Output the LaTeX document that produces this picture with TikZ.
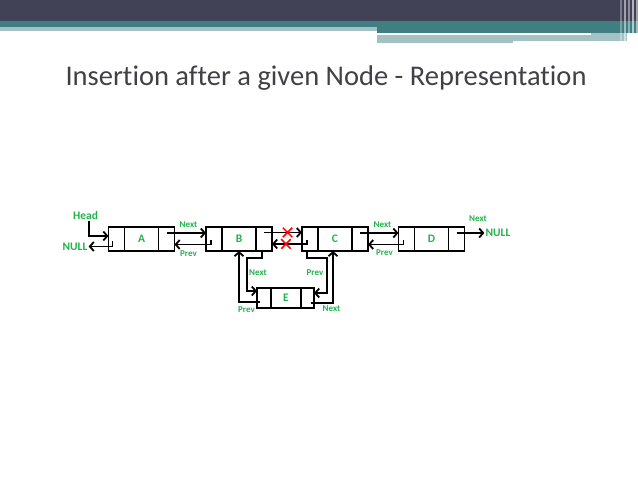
\documentclass[tikz,border=0pt]{standalone}
\usepackage{fontspec}
\setmainfont{Carlito}[Ligatures={NoCommon}]
\usetikzlibrary{positioning,arrows.meta,shapes.misc}
\definecolor{slidedark}{HTML}{424257}
\definecolor{slideteal}{HTML}{3F7E81}
\definecolor{slidelight}{HTML}{A4C1C4}
\definecolor{titlegray}{HTML}{404048}
\definecolor{paintgreen}{HTML}{22B14C}
\tikzset{
  cell/.style={draw, line width=1.9pt, minimum height=24pt, inner sep=0pt, outer sep=0pt,
    text=paintgreen, font=\bfseries\fontsize{11.5}{12}\selectfont},
  ptr/.style={cell, minimum width=16pt},
  dat/.style={cell, minimum width=34pt},
  ecell/.style={cell, minimum height=20pt},
  lbl/.style={text=paintgreen, font=\bfseries\fontsize{9}{9}\selectfont, inner sep=0.5pt},
  biglbl/.style={text=paintgreen, font=\bfseries\fontsize{11.5}{12}\selectfont, inner sep=1pt},
  link/.style={->, line width=1.8pt},
  crossmark/.style={cross out, draw=red, line width=1.5pt, minimum size=8pt, inner sep=0pt}
}
\begin{document}
\begin{tikzpicture}[x=1pt, y=-1pt, >={Straight Barb[length=4pt,width=9pt]}]
  \useasboundingbox (0,0) rectangle (638,478);
  % slide header
  \fill[slidedark] (0,0) rectangle (638,21);
  \fill[slideteal] (0,21) rectangle (638,27.5);
  \fill[slidelight] (0,27.5) rectangle (377,31);
  \fill[slideteal] (377,27.5) rectangle (638,33.5);
  \fill[slidelight] (377,33.5) rectangle (627,41);
  \fill[white] (377,33.5) rectangle (591,35.3);
  \fill[slidelight] (377,41) rectangle (513,42.7);
  \foreach \x/\o in {620/0.3,624/0.5,628/0.4,632/0.6,636/0.5}
    \fill[white, opacity=\o] (\x,0) rectangle ++(1.5,42);

  \node[text=titlegray, font=\fontsize{28.5}{34}\selectfont] (title) at (326,78)
    {Insertion after a given Node - Representation};

  % list nodes
  \node[dat] (A) at (141.5,239) {A};
  \node[ptr, left=0pt of A] (Ap) {};
  \node[ptr, right=0pt of A] (An) {};
  \node[dat] (B) at (239,239) {B};
  \node[ptr, left=0pt of B] (Bp) {};
  \node[ptr, right=0pt of B] (Bn) {};
  \node[dat] (C) at (335,239) {C};
  \node[ptr, left=0pt of C] (Cp) {};
  \node[ptr, right=0pt of C] (Cn) {};
  \node[dat] (D) at (431.5,239) {D};
  \node[ptr, left=0pt of D] (Dp) {};
  \node[ptr, right=0pt of D] (Dn) {};
  \node[ecell, minimum width=30pt] (E) at (286,298) {E};
  \node[ecell, minimum width=14pt, left=0pt of E] (Ep) {};
  \node[ecell, minimum width=13pt, right=0pt of E] (En) {};

  % labels
  \node[biglbl] (head) at (85.5,215.5) {Head};
  \node[biglbl] (nullL) at (75,246.5) {NULL};
  \node[biglbl] (nullR) at (498,233) {NULL};
  \node[lbl] (nAB) at (188.5,224.5) {Next};
  \node[lbl] (pBA) at (188.5,254) {Prev};
  \node[lbl] (nCD) at (382.5,224.5) {Next};
  \node[lbl] (pDC) at (384.5,252.5) {Prev};
  \node[lbl] (nDN) at (478,219) {Next};
  \node[lbl] (nBE) at (258,272.5) {Next};
  \node[lbl] (pEB) at (246.5,309.5) {Prev};
  \node[lbl] (pCE) at (315,273) {Prev};
  \node[lbl] (nEC) at (331.5,309) {Next};

  % links
  \draw[link] ([xshift=3.5pt]head.south) |- ([yshift=3pt]Ap.west);
  \draw[link] ([shift={(-4pt,-2pt)}]Ap.center) |- (nullL.east);
  \draw[link] ([yshift=6pt]An.center) -- ([yshift=6pt]Bp.west);
  \draw[link] ([shift={(-3pt,-1pt)}]Bp.center) |- ([yshift=-5.5pt]An.east);
  \draw[link] ([yshift=6.5pt]Bn.center) -- node[crossmark, pos=0.62] (x1) {} ([yshift=6.5pt]Cp.west);
  \draw[link] ([shift={(-3pt,-1pt)}]Cp.center) |- node[crossmark, pos=0.8] (x2) {} ([yshift=-5pt]Bn.east);
  \draw[link] ([yshift=6pt]Cn.center) -- ([yshift=6pt]Dp.west);
  \draw[link] ([shift={(-3pt,-1pt)}]Dp.center) |- ([yshift=-5.5pt]Cn.east);
  \draw[link] ([yshift=6pt]Dn.center) -- (nullR.west);
  \draw[link] ([xshift=-2pt]Bn.south) -- ++(0,-7pt) -- ++(-15pt,0) |- ([yshift=7pt]Ep.west);
  \draw[link] ([shift={(-4pt,-4pt)}]Ep.center) -| (B.south);
  \draw[link] ([xshift=-3pt]Cp.south) -- ++(0,-7pt) -- ++(20pt,0) |- ([yshift=5pt]En.east);
  \draw[link] ([shift={(3pt,-5pt)}]En.center) -| ([xshift=-2pt]C.south);
\end{tikzpicture}
\end{document}
